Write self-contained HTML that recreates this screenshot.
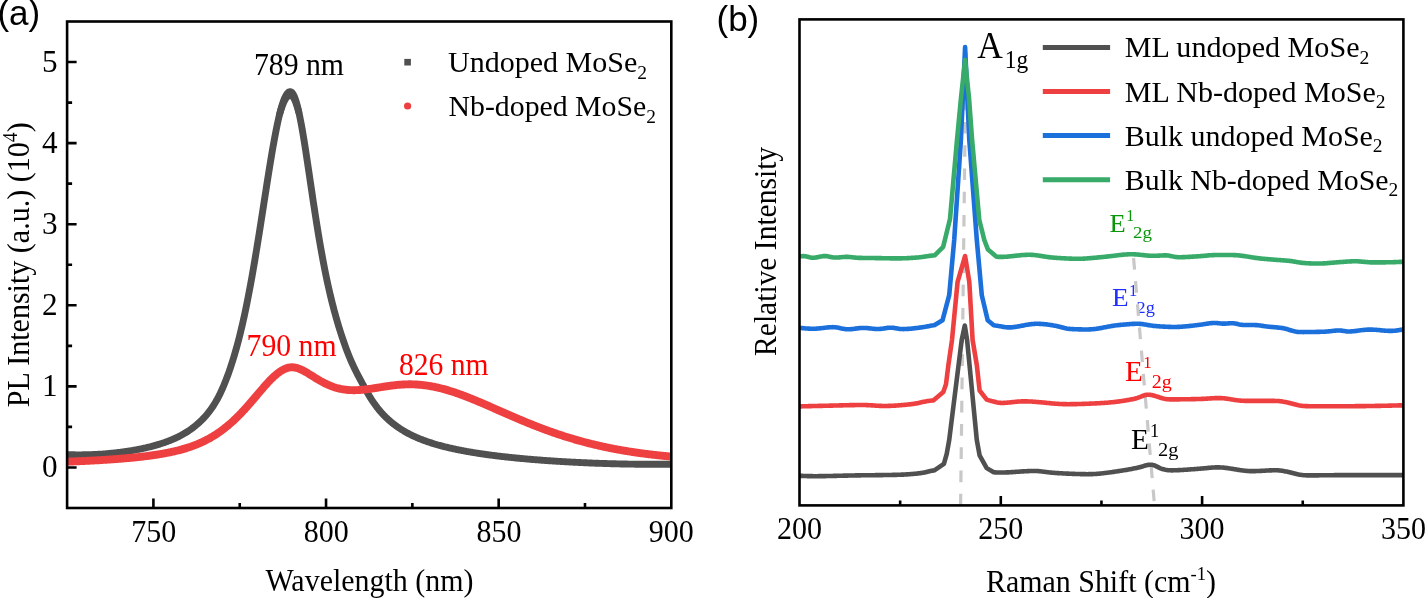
<!DOCTYPE html><html><head><meta charset="utf-8"><style>html,body{margin:0;padding:0;background:#fff;width:1425px;height:598px;overflow:hidden;position:relative}</style></head><body><svg width="1425" height="598" viewBox="0 0 1425 598" style="position:absolute;left:0;top:0;will-change:transform">
<rect width="1425" height="598" fill="#fff"/>
<defs><clipPath id="ca"><rect x="67.1" y="21.5" width="604.1999999999999" height="486.5"/></clipPath><clipPath id="cb"><rect x="799.5" y="19.4" width="603.9000000000001" height="486.0"/></clipPath></defs>
<g clip-path="url(#ca)" fill="none" stroke-linejoin="round" stroke-linecap="round">
<path d="M67.10,454.63 L67.96,454.66 L68.83,454.69 L69.69,454.71 L70.56,454.74 L71.42,454.76 L72.29,454.77 L73.15,454.79 L74.02,454.80 L74.88,454.82 L75.74,454.83 L76.61,454.83 L77.47,454.84 L78.34,454.84 L79.20,454.84 L80.07,454.84 L80.93,454.83 L81.79,454.83 L82.66,454.82 L83.52,454.81 L84.39,454.80 L85.25,454.78 L86.12,454.76 L86.98,454.74 L87.85,454.72 L88.71,454.70 L89.57,454.67 L90.44,454.64 L91.30,454.61 L92.17,454.58 L93.03,454.55 L93.90,454.51 L94.76,454.47 L95.62,454.43 L96.49,454.38 L97.35,454.34 L98.22,454.29 L99.08,454.24 L99.95,454.19 L100.81,454.13 L101.68,454.07 L102.54,454.02 L103.40,453.95 L104.27,453.89 L105.13,453.82 L106.00,453.75 L106.86,453.68 L107.73,453.61 L108.59,453.53 L109.45,453.46 L110.32,453.38 L111.18,453.29 L112.05,453.21 L112.91,453.12 L113.78,453.03 L114.64,452.94 L115.51,452.85 L116.37,452.75 L117.23,452.65 L118.10,452.55 L118.96,452.44 L119.83,452.34 L120.69,452.23 L121.56,452.11 L122.42,452.00 L123.28,451.88 L124.15,451.76 L125.01,451.64 L125.88,451.52 L126.74,451.39 L127.61,451.26 L128.47,451.13 L129.34,450.99 L130.20,450.85 L131.06,450.71 L131.93,450.56 L132.79,450.42 L133.66,450.27 L134.52,450.11 L135.39,449.96 L136.25,449.80 L137.11,449.64 L137.98,449.47 L138.84,449.30 L139.71,449.13 L140.57,448.95 L141.44,448.77 L142.30,448.59 L143.17,448.41 L144.03,448.22 L144.89,448.02 L145.76,447.83 L146.62,447.63 L147.49,447.42 L148.35,447.21 L149.22,447.00 L150.08,446.79 L150.94,446.57 L151.81,446.34 L152.67,446.11 L153.54,445.88 L154.40,445.64 L155.27,445.40 L156.13,445.15 L157.00,444.90 L157.86,444.64 L158.72,444.38 L159.59,444.12 L160.45,443.84 L161.32,443.57 L162.18,443.28 L163.05,442.99 L163.91,442.70 L164.77,442.40 L165.64,442.09 L166.50,441.78 L167.37,441.45 L168.23,441.13 L169.10,440.79 L169.96,440.45 L170.83,440.10 L171.69,439.75 L172.55,439.38 L173.42,439.01 L174.28,438.63 L175.15,438.24 L176.01,437.84 L176.88,437.43 L177.74,437.02 L178.60,436.59 L179.47,436.15 L180.33,435.71 L181.20,435.25 L182.06,434.78 L182.93,434.30 L183.79,433.81 L184.66,433.30 L185.52,432.79 L186.38,432.26 L187.25,431.71 L188.11,431.15 L188.98,430.58 L189.84,430.00 L190.71,429.39 L191.57,428.78 L192.43,428.14 L193.30,427.49 L194.16,426.82 L195.03,426.13 L195.89,425.43 L196.76,424.70 L197.62,423.96 L198.49,423.19 L199.35,422.40 L200.21,421.59 L201.08,420.75 L201.94,419.90 L202.81,419.01 L203.67,418.10 L204.54,417.16 L205.40,416.19 L206.26,415.20 L207.13,414.17 L207.99,413.10 L208.86,412.01 L209.72,410.88 L210.59,409.71 L211.45,408.50 L212.32,407.26 L213.18,405.97 L214.04,404.64 L214.91,403.25 L215.77,401.81 L216.64,400.31 L217.50,398.74 L218.37,397.11 L219.23,395.42 L220.09,393.67 L220.96,391.85 L221.82,389.97 L222.69,388.02 L223.55,386.01 L224.42,383.93 L225.28,381.78 L226.15,379.58 L227.01,377.30 L227.87,374.96 L228.74,372.56 L229.60,370.08 L230.47,367.54 L231.33,364.93 L232.20,362.25 L233.06,359.50 L233.92,356.68 L234.79,353.78 L235.65,350.80 L236.52,347.74 L237.38,344.58 L238.25,341.34 L239.11,338.00 L239.98,334.56 L240.84,331.03 L241.70,327.39 L242.57,323.66 L243.43,319.83 L244.30,315.89 L245.16,311.86 L246.03,307.72 L246.89,303.48 L247.75,299.15 L248.62,294.71 L249.48,290.18 L250.35,285.55 L251.21,280.83 L252.08,276.02 L252.94,271.12 L253.81,266.13 L254.67,261.06 L255.53,255.92 L256.40,250.70 L257.26,245.42 L258.13,240.07 L258.99,234.67 L259.86,229.22 L260.72,223.73 L261.58,218.21 L262.45,212.66 L263.31,207.10 L264.18,201.53 L265.04,195.96 L265.91,190.41 L266.77,184.89 L267.64,179.40 L268.50,173.96 L269.36,168.59 L270.23,163.29 L271.09,158.07 L271.96,152.95 L272.82,147.95 L273.69,143.08 L274.55,138.35 L275.42,133.77 L276.28,129.37 L277.14,125.14 L278.01,121.12 L278.87,117.30 L279.74,113.70 L280.60,110.34 L281.47,107.22 L282.33,104.37 L283.19,101.78 L284.06,99.46 L284.92,97.44 L285.79,95.70 L286.65,94.27 L287.52,93.14 L288.38,92.33 L289.25,91.82 L290.11,91.63 L290.97,91.81 L291.84,92.41 L292.70,93.44 L293.57,94.89 L294.43,96.76 L295.30,99.02 L296.16,101.67 L297.02,104.69 L297.89,108.07 L298.75,111.77 L299.62,115.78 L300.48,120.08 L301.35,124.65 L302.21,129.46 L303.08,134.48 L303.94,139.68 L304.80,145.06 L305.67,150.57 L306.53,156.20 L307.40,161.91 L308.26,167.70 L309.13,173.52 L309.99,179.38 L310.85,185.23 L311.72,191.08 L312.58,196.89 L313.45,202.66 L314.31,208.36 L315.18,214.00 L316.04,219.55 L316.91,225.01 L317.77,230.36 L318.63,235.62 L319.50,240.76 L320.36,245.78 L321.23,250.68 L322.09,255.47 L322.96,260.13 L323.82,264.68 L324.68,269.10 L325.55,273.40 L326.41,277.59 L327.28,281.66 L328.14,285.62 L329.01,289.47 L329.87,293.22 L330.74,296.87 L331.60,300.41 L332.46,303.87 L333.33,307.23 L334.19,310.51 L335.06,313.70 L335.92,316.81 L336.79,319.84 L337.65,322.81 L338.51,325.70 L339.38,328.52 L340.24,331.28 L341.11,333.97 L341.97,336.61 L342.84,339.19 L343.70,341.71 L344.57,344.17 L345.43,346.58 L346.29,348.95 L347.16,351.25 L348.02,353.48 L348.89,355.66 L349.75,357.77 L350.62,359.82 L351.48,361.81 L352.34,363.74 L353.21,365.62 L354.07,367.45 L354.94,369.23 L355.80,370.98 L356.67,372.69 L357.53,374.37 L358.40,376.03 L359.26,377.68 L360.12,379.31 L360.99,380.93 L361.85,382.54 L362.72,384.14 L363.58,385.73 L364.45,387.31 L365.31,388.88 L366.17,390.44 L367.04,391.98 L367.90,393.49 L368.77,394.98 L369.63,396.43 L370.50,397.85 L371.36,399.22 L372.23,400.56 L373.09,401.86 L373.95,403.12 L374.82,404.35 L375.68,405.54 L376.55,406.69 L377.41,407.82 L378.28,408.91 L379.14,409.97 L380.00,411.00 L380.87,412.00 L381.73,412.98 L382.60,413.93 L383.46,414.85 L384.33,415.74 L385.19,416.61 L386.06,417.46 L386.92,418.28 L387.78,419.09 L388.65,419.87 L389.51,420.63 L390.38,421.37 L391.24,422.10 L392.11,422.81 L392.97,423.50 L393.83,424.18 L394.70,424.84 L395.56,425.48 L396.43,426.11 L397.29,426.73 L398.16,427.33 L399.02,427.92 L399.89,428.50 L400.75,429.06 L401.61,429.61 L402.48,430.15 L403.34,430.67 L404.21,431.19 L405.07,431.69 L405.94,432.19 L406.80,432.67 L407.66,433.14 L408.53,433.60 L409.39,434.06 L410.26,434.50 L411.12,434.93 L411.99,435.36 L412.85,435.77 L413.72,436.18 L414.58,436.58 L415.44,436.97 L416.31,437.36 L417.17,437.73 L418.04,438.10 L418.90,438.46 L419.77,438.82 L420.63,439.17 L421.49,439.51 L422.36,439.84 L423.22,440.17 L424.09,440.49 L424.95,440.81 L425.82,441.12 L426.68,441.43 L427.55,441.73 L428.41,442.02 L429.27,442.31 L430.14,442.60 L431.00,442.88 L431.87,443.15 L432.73,443.43 L433.60,443.69 L434.46,443.95 L435.32,444.21 L436.19,444.47 L437.05,444.72 L437.92,444.96 L438.78,445.20 L439.65,445.44 L440.51,445.68 L441.38,445.91 L442.24,446.13 L443.10,446.36 L443.97,446.58 L444.83,446.80 L445.70,447.01 L446.56,447.22 L447.43,447.43 L448.29,447.63 L449.15,447.84 L450.02,448.04 L450.88,448.23 L451.75,448.43 L452.61,448.62 L453.48,448.81 L454.34,448.99 L455.21,449.18 L456.07,449.36 L456.93,449.54 L457.80,449.71 L458.66,449.89 L459.53,450.06 L460.39,450.23 L461.26,450.40 L462.12,450.56 L462.98,450.73 L463.85,450.89 L464.71,451.05 L465.58,451.21 L466.44,451.36 L467.31,451.52 L468.17,451.67 L469.04,451.82 L469.90,451.97 L470.76,452.12 L471.63,452.26 L472.49,452.40 L473.36,452.55 L474.22,452.69 L475.09,452.83 L475.95,452.96 L476.82,453.10 L477.68,453.23 L478.54,453.36 L479.41,453.50 L480.27,453.63 L481.14,453.75 L482.00,453.88 L482.87,454.01 L483.73,454.13 L484.59,454.25 L485.46,454.38 L486.32,454.50 L487.19,454.62 L488.05,454.73 L488.92,454.85 L489.78,454.97 L490.65,455.08 L491.51,455.19 L492.37,455.30 L493.24,455.42 L494.10,455.52 L494.97,455.63 L495.83,455.74 L496.70,455.85 L497.56,455.95 L498.42,456.06 L499.29,456.16 L500.15,456.26 L501.02,456.36 L501.88,456.46 L502.75,456.56 L503.61,456.66 L504.48,456.76 L505.34,456.86 L506.20,456.95 L507.07,457.05 L507.93,457.14 L508.80,457.23 L509.66,457.32 L510.53,457.42 L511.39,457.51 L512.25,457.60 L513.12,457.68 L513.98,457.77 L514.85,457.86 L515.71,457.94 L516.58,458.03 L517.44,458.11 L518.31,458.20 L519.17,458.28 L520.03,458.36 L520.90,458.44 L521.76,458.52 L522.63,458.60 L523.49,458.68 L524.36,458.76 L525.22,458.84 L526.08,458.92 L526.95,458.99 L527.81,459.07 L528.68,459.14 L529.54,459.22 L530.41,459.29 L531.27,459.36 L532.14,459.44 L533.00,459.51 L533.86,459.58 L534.73,459.65 L535.59,459.72 L536.46,459.79 L537.32,459.86 L538.19,459.92 L539.05,459.99 L539.91,460.06 L540.78,460.12 L541.64,460.19 L542.51,460.25 L543.37,460.32 L544.24,460.38 L545.10,460.44 L545.97,460.51 L546.83,460.57 L547.69,460.63 L548.56,460.69 L549.42,460.75 L550.29,460.81 L551.15,460.87 L552.02,460.93 L552.88,460.98 L553.74,461.04 L554.61,461.10 L555.47,461.15 L556.34,461.21 L557.20,461.26 L558.07,461.32 L558.93,461.37 L559.80,461.42 L560.66,461.48 L561.52,461.53 L562.39,461.58 L563.25,461.63 L564.12,461.68 L564.98,461.73 L565.85,461.78 L566.71,461.83 L567.57,461.88 L568.44,461.93 L569.30,461.98 L570.17,462.02 L571.03,462.07 L571.90,462.12 L572.76,462.16 L573.63,462.21 L574.49,462.25 L575.35,462.30 L576.22,462.34 L577.08,462.38 L577.95,462.42 L578.81,462.47 L579.68,462.51 L580.54,462.55 L581.40,462.59 L582.27,462.63 L583.13,462.67 L584.00,462.71 L584.86,462.75 L585.73,462.79 L586.59,462.82 L587.46,462.86 L588.32,462.90 L589.18,462.93 L590.05,462.97 L590.91,463.01 L591.78,463.04 L592.64,463.08 L593.51,463.11 L594.37,463.14 L595.23,463.18 L596.10,463.21 L596.96,463.24 L597.83,463.27 L598.69,463.30 L599.56,463.33 L600.42,463.36 L601.29,463.39 L602.15,463.42 L603.01,463.45 L603.88,463.48 L604.74,463.51 L605.61,463.53 L606.47,463.56 L607.34,463.59 L608.20,463.61 L609.06,463.64 L609.93,463.66 L610.79,463.69 L611.66,463.71 L612.52,463.74 L613.39,463.76 L614.25,463.78 L615.12,463.80 L615.98,463.82 L616.84,463.85 L617.71,463.87 L618.57,463.89 L619.44,463.91 L620.30,463.93 L621.17,463.94 L622.03,463.96 L622.89,463.98 L623.76,464.00 L624.62,464.02 L625.49,464.03 L626.35,464.05 L627.22,464.06 L628.08,464.08 L628.95,464.09 L629.81,464.11 L630.67,464.12 L631.54,464.13 L632.40,464.15 L633.27,464.16 L634.13,464.17 L635.00,464.18 L635.86,464.19 L636.72,464.20 L637.59,464.21 L638.45,464.22 L639.32,464.23 L640.18,464.24 L641.05,464.24 L641.91,464.25 L642.78,464.26 L643.64,464.26 L644.50,464.27 L645.37,464.27 L646.23,464.28 L647.10,464.28 L647.96,464.29 L648.83,464.29 L649.69,464.29 L650.55,464.30 L651.42,464.30 L652.28,464.30 L653.15,464.30 L654.01,464.30 L654.88,464.30 L655.74,464.30 L656.61,464.30 L657.47,464.29 L658.33,464.29 L659.20,464.29 L660.06,464.29 L660.93,464.28 L661.79,464.28 L662.66,464.27 L663.52,464.27 L664.38,464.26 L665.25,464.25 L666.11,464.25 L666.98,464.24 L667.84,464.23 L668.71,464.22 L669.57,464.21 L670.44,464.20 L671.30,464.19" stroke="#505050" stroke-width="6.9"/>
<path d="M279.74,113.75 L280.60,110.91 L281.47,108.27 L282.33,105.86 L283.19,103.67 L284.06,101.71 L284.92,100.00 L285.79,98.53 L286.65,97.32 L287.52,96.37 L288.38,95.67 L289.25,95.25 L290.11,95.09 L290.97,95.24 L291.84,95.75 L292.70,96.62 L293.57,97.85 L294.43,99.42 L295.30,101.34 L296.16,103.58 L297.02,106.13 L297.89,108.98 L298.75,112.11" stroke="#505050" stroke-width="6.9"/>
<path d="M67.10,461.70 L67.96,461.66 L68.83,461.63 L69.69,461.60 L70.56,461.56 L71.42,461.53 L72.29,461.49 L73.15,461.46 L74.02,461.42 L74.88,461.39 L75.74,461.35 L76.61,461.31 L77.47,461.28 L78.34,461.24 L79.20,461.20 L80.07,461.16 L80.93,461.12 L81.79,461.08 L82.66,461.04 L83.52,461.00 L84.39,460.96 L85.25,460.92 L86.12,460.88 L86.98,460.84 L87.85,460.79 L88.71,460.75 L89.57,460.71 L90.44,460.66 L91.30,460.62 L92.17,460.57 L93.03,460.53 L93.90,460.48 L94.76,460.43 L95.62,460.39 L96.49,460.34 L97.35,460.29 L98.22,460.24 L99.08,460.19 L99.95,460.14 L100.81,460.09 L101.68,460.03 L102.54,459.98 L103.40,459.93 L104.27,459.87 L105.13,459.82 L106.00,459.76 L106.86,459.71 L107.73,459.65 L108.59,459.59 L109.45,459.54 L110.32,459.48 L111.18,459.42 L112.05,459.36 L112.91,459.29 L113.78,459.23 L114.64,459.17 L115.51,459.11 L116.37,459.04 L117.23,458.97 L118.10,458.91 L118.96,458.84 L119.83,458.77 L120.69,458.70 L121.56,458.63 L122.42,458.56 L123.28,458.49 L124.15,458.42 L125.01,458.34 L125.88,458.27 L126.74,458.19 L127.61,458.11 L128.47,458.03 L129.34,457.96 L130.20,457.87 L131.06,457.79 L131.93,457.71 L132.79,457.62 L133.66,457.54 L134.52,457.45 L135.39,457.36 L136.25,457.27 L137.11,457.18 L137.98,457.09 L138.84,457.00 L139.71,456.90 L140.57,456.80 L141.44,456.71 L142.30,456.61 L143.17,456.50 L144.03,456.40 L144.89,456.30 L145.76,456.19 L146.62,456.08 L147.49,455.97 L148.35,455.86 L149.22,455.74 L150.08,455.63 L150.94,455.51 L151.81,455.39 L152.67,455.27 L153.54,455.14 L154.40,455.02 L155.27,454.89 L156.13,454.76 L157.00,454.62 L157.86,454.49 L158.72,454.35 L159.59,454.21 L160.45,454.07 L161.32,453.92 L162.18,453.77 L163.05,453.62 L163.91,453.46 L164.77,453.31 L165.64,453.14 L166.50,452.98 L167.37,452.81 L168.23,452.64 L169.10,452.47 L169.96,452.29 L170.83,452.11 L171.69,451.92 L172.55,451.73 L173.42,451.54 L174.28,451.34 L175.15,451.14 L176.01,450.94 L176.88,450.73 L177.74,450.51 L178.60,450.30 L179.47,450.07 L180.33,449.84 L181.20,449.61 L182.06,449.37 L182.93,449.13 L183.79,448.88 L184.66,448.62 L185.52,448.36 L186.38,448.10 L187.25,447.83 L188.11,447.55 L188.98,447.26 L189.84,446.97 L190.71,446.68 L191.57,446.37 L192.43,446.06 L193.30,445.75 L194.16,445.42 L195.03,445.09 L195.89,444.75 L196.76,444.41 L197.62,444.05 L198.49,443.69 L199.35,443.32 L200.21,442.94 L201.08,442.55 L201.94,442.16 L202.81,441.75 L203.67,441.34 L204.54,440.92 L205.40,440.49 L206.26,440.05 L207.13,439.60 L207.99,439.14 L208.86,438.67 L209.72,438.19 L210.59,437.70 L211.45,437.20 L212.32,436.69 L213.18,436.17 L214.04,435.64 L214.91,435.10 L215.77,434.55 L216.64,433.98 L217.50,433.41 L218.37,432.82 L219.23,432.22 L220.09,431.61 L220.96,430.99 L221.82,430.36 L222.69,429.71 L223.55,429.06 L224.42,428.39 L225.28,427.71 L226.15,427.02 L227.01,426.31 L227.87,425.60 L228.74,424.87 L229.60,424.13 L230.47,423.37 L231.33,422.61 L232.20,421.83 L233.06,421.04 L233.92,420.24 L234.79,419.42 L235.65,418.60 L236.52,417.76 L237.38,416.91 L238.25,416.05 L239.11,415.18 L239.98,414.29 L240.84,413.40 L241.70,412.50 L242.57,411.58 L243.43,410.65 L244.30,409.72 L245.16,408.77 L246.03,407.82 L246.89,406.86 L247.75,405.88 L248.62,404.90 L249.48,403.92 L250.35,402.92 L251.21,401.92 L252.08,400.92 L252.94,399.91 L253.81,398.89 L254.67,397.88 L255.53,396.86 L256.40,395.83 L257.26,394.81 L258.13,393.79 L258.99,392.76 L259.86,391.74 L260.72,390.73 L261.58,389.72 L262.45,388.71 L263.31,387.71 L264.18,386.72 L265.04,385.73 L265.91,384.76 L266.77,383.80 L267.64,382.85 L268.50,381.92 L269.36,381.01 L270.23,380.11 L271.09,379.23 L271.96,378.37 L272.82,377.54 L273.69,376.73 L274.55,375.94 L275.42,375.18 L276.28,374.45 L277.14,373.74 L278.01,373.07 L278.87,372.43 L279.74,371.82 L280.60,371.24 L281.47,370.70 L282.33,370.19 L283.19,369.72 L284.06,369.28 L284.92,368.88 L285.79,368.52 L286.65,368.20 L287.52,367.92 L288.38,367.69 L289.25,367.52 L290.11,367.39 L290.97,367.32 L291.84,367.29 L292.70,367.31 L293.57,367.37 L294.43,367.48 L295.30,367.63 L296.16,367.82 L297.02,368.05 L297.89,368.32 L298.75,368.62 L299.62,368.95 L300.48,369.31 L301.35,369.69 L302.21,370.11 L303.08,370.54 L303.94,370.99 L304.80,371.46 L305.67,371.95 L306.53,372.45 L307.40,372.96 L308.26,373.49 L309.13,374.02 L309.99,374.55 L310.85,375.09 L311.72,375.63 L312.58,376.17 L313.45,376.71 L314.31,377.25 L315.18,377.79 L316.04,378.32 L316.91,378.85 L317.77,379.37 L318.63,379.88 L319.50,380.39 L320.36,380.89 L321.23,381.37 L322.09,381.85 L322.96,382.31 L323.82,382.77 L324.68,383.21 L325.55,383.64 L326.41,384.05 L327.28,384.45 L328.14,384.84 L329.01,385.22 L329.87,385.58 L330.74,385.93 L331.60,386.26 L332.46,386.58 L333.33,386.89 L334.19,387.18 L335.06,387.45 L335.92,387.72 L336.79,387.97 L337.65,388.20 L338.51,388.42 L339.38,388.63 L340.24,388.82 L341.11,389.00 L341.97,389.16 L342.84,389.31 L343.70,389.45 L344.57,389.58 L345.43,389.69 L346.29,389.79 L347.16,389.88 L348.02,389.96 L348.89,390.02 L349.75,390.08 L350.62,390.12 L351.48,390.15 L352.34,390.17 L353.21,390.18 L354.07,390.19 L354.94,390.18 L355.80,390.16 L356.67,390.13 L357.53,390.10 L358.40,390.06 L359.26,390.01 L360.12,389.95 L360.99,389.88 L361.85,389.81 L362.72,389.73 L363.58,389.65 L364.45,389.56 L365.31,389.46 L366.17,389.36 L367.04,389.25 L367.90,389.14 L368.77,389.03 L369.63,388.91 L370.50,388.79 L371.36,388.66 L372.23,388.54 L373.09,388.41 L373.95,388.27 L374.82,388.14 L375.68,388.00 L376.55,387.87 L377.41,387.73 L378.28,387.59 L379.14,387.45 L380.00,387.31 L380.87,387.18 L381.73,387.04 L382.60,386.90 L383.46,386.77 L384.33,386.63 L385.19,386.50 L386.06,386.37 L386.92,386.24 L387.78,386.11 L388.65,385.99 L389.51,385.87 L390.38,385.75 L391.24,385.64 L392.11,385.52 L392.97,385.42 L393.83,385.31 L394.70,385.21 L395.56,385.12 L396.43,385.03 L397.29,384.94 L398.16,384.86 L399.02,384.79 L399.89,384.71 L400.75,384.65 L401.61,384.59 L402.48,384.53 L403.34,384.48 L404.21,384.44 L405.07,384.40 L405.94,384.37 L406.80,384.35 L407.66,384.33 L408.53,384.32 L409.39,384.31 L410.26,384.31 L411.12,384.32 L411.99,384.33 L412.85,384.36 L413.72,384.38 L414.58,384.42 L415.44,384.46 L416.31,384.51 L417.17,384.56 L418.04,384.62 L418.90,384.69 L419.77,384.76 L420.63,384.84 L421.49,384.92 L422.36,385.01 L423.22,385.11 L424.09,385.21 L424.95,385.32 L425.82,385.44 L426.68,385.56 L427.55,385.68 L428.41,385.82 L429.27,385.95 L430.14,386.10 L431.00,386.25 L431.87,386.40 L432.73,386.57 L433.60,386.73 L434.46,386.91 L435.32,387.08 L436.19,387.27 L437.05,387.46 L437.92,387.65 L438.78,387.85 L439.65,388.06 L440.51,388.27 L441.38,388.49 L442.24,388.71 L443.10,388.94 L443.97,389.17 L444.83,389.41 L445.70,389.65 L446.56,389.90 L447.43,390.15 L448.29,390.40 L449.15,390.67 L450.02,390.93 L450.88,391.20 L451.75,391.47 L452.61,391.75 L453.48,392.04 L454.34,392.32 L455.21,392.61 L456.07,392.91 L456.93,393.21 L457.80,393.51 L458.66,393.81 L459.53,394.12 L460.39,394.43 L461.26,394.75 L462.12,395.07 L462.98,395.39 L463.85,395.72 L464.71,396.05 L465.58,396.38 L466.44,396.71 L467.31,397.05 L468.17,397.39 L469.04,397.73 L469.90,398.07 L470.76,398.42 L471.63,398.77 L472.49,399.12 L473.36,399.47 L474.22,399.83 L475.09,400.19 L475.95,400.55 L476.82,400.91 L477.68,401.27 L478.54,401.63 L479.41,402.00 L480.27,402.37 L481.14,402.74 L482.00,403.11 L482.87,403.48 L483.73,403.85 L484.59,404.22 L485.46,404.60 L486.32,404.97 L487.19,405.35 L488.05,405.73 L488.92,406.10 L489.78,406.48 L490.65,406.86 L491.51,407.24 L492.37,407.62 L493.24,408.00 L494.10,408.38 L494.97,408.76 L495.83,409.14 L496.70,409.52 L497.56,409.90 L498.42,410.28 L499.29,410.66 L500.15,411.05 L501.02,411.43 L501.88,411.81 L502.75,412.19 L503.61,412.57 L504.48,412.94 L505.34,413.32 L506.20,413.70 L507.07,414.08 L507.93,414.46 L508.80,414.83 L509.66,415.21 L510.53,415.59 L511.39,415.96 L512.25,416.33 L513.12,416.71 L513.98,417.08 L514.85,417.45 L515.71,417.82 L516.58,418.19 L517.44,418.56 L518.31,418.92 L519.17,419.29 L520.03,419.66 L520.90,420.02 L521.76,420.38 L522.63,420.74 L523.49,421.10 L524.36,421.46 L525.22,421.82 L526.08,422.17 L526.95,422.53 L527.81,422.88 L528.68,423.23 L529.54,423.58 L530.41,423.93 L531.27,424.28 L532.14,424.62 L533.00,424.97 L533.86,425.31 L534.73,425.65 L535.59,425.99 L536.46,426.33 L537.32,426.67 L538.19,427.00 L539.05,427.33 L539.91,427.66 L540.78,427.99 L541.64,428.32 L542.51,428.64 L543.37,428.97 L544.24,429.29 L545.10,429.61 L545.97,429.93 L546.83,430.25 L547.69,430.56 L548.56,430.87 L549.42,431.18 L550.29,431.49 L551.15,431.80 L552.02,432.10 L552.88,432.41 L553.74,432.71 L554.61,433.01 L555.47,433.31 L556.34,433.60 L557.20,433.89 L558.07,434.19 L558.93,434.47 L559.80,434.76 L560.66,435.05 L561.52,435.33 L562.39,435.61 L563.25,435.89 L564.12,436.17 L564.98,436.45 L565.85,436.72 L566.71,436.99 L567.57,437.26 L568.44,437.53 L569.30,437.79 L570.17,438.06 L571.03,438.32 L571.90,438.58 L572.76,438.83 L573.63,439.09 L574.49,439.34 L575.35,439.59 L576.22,439.84 L577.08,440.09 L577.95,440.33 L578.81,440.58 L579.68,440.82 L580.54,441.06 L581.40,441.29 L582.27,441.53 L583.13,441.76 L584.00,441.99 L584.86,442.22 L585.73,442.45 L586.59,442.68 L587.46,442.90 L588.32,443.12 L589.18,443.34 L590.05,443.56 L590.91,443.77 L591.78,443.98 L592.64,444.20 L593.51,444.41 L594.37,444.61 L595.23,444.82 L596.10,445.02 L596.96,445.22 L597.83,445.42 L598.69,445.62 L599.56,445.82 L600.42,446.01 L601.29,446.20 L602.15,446.40 L603.01,446.58 L603.88,446.77 L604.74,446.96 L605.61,447.14 L606.47,447.32 L607.34,447.50 L608.20,447.68 L609.06,447.85 L609.93,448.03 L610.79,448.20 L611.66,448.37 L612.52,448.54 L613.39,448.71 L614.25,448.87 L615.12,449.04 L615.98,449.20 L616.84,449.36 L617.71,449.52 L618.57,449.68 L619.44,449.83 L620.30,449.99 L621.17,450.14 L622.03,450.29 L622.89,450.44 L623.76,450.59 L624.62,450.73 L625.49,450.88 L626.35,451.02 L627.22,451.16 L628.08,451.30 L628.95,451.44 L629.81,451.58 L630.67,451.71 L631.54,451.84 L632.40,451.98 L633.27,452.11 L634.13,452.24 L635.00,452.37 L635.86,452.49 L636.72,452.62 L637.59,452.74 L638.45,452.86 L639.32,452.98 L640.18,453.10 L641.05,453.22 L641.91,453.34 L642.78,453.46 L643.64,453.57 L644.50,453.68 L645.37,453.80 L646.23,453.91 L647.10,454.02 L647.96,454.12 L648.83,454.23 L649.69,454.34 L650.55,454.44 L651.42,454.54 L652.28,454.65 L653.15,454.75 L654.01,454.85 L654.88,454.95 L655.74,455.04 L656.61,455.14 L657.47,455.23 L658.33,455.33 L659.20,455.42 L660.06,455.51 L660.93,455.60 L661.79,455.69 L662.66,455.78 L663.52,455.87 L664.38,455.96 L665.25,456.04 L666.11,456.13 L666.98,456.21 L667.84,456.30 L668.71,456.38 L669.57,456.46 L670.44,456.54 L671.30,456.62" stroke="#ee4040" stroke-width="7.9"/>
</g>
<rect x="67.1" y="21.5" width="604.1999999999999" height="486.5" fill="none" stroke="#000" stroke-width="2.6"/>
<path d="M153.41,508.0 V498.5 M326.04,508.0 V498.5 M498.67,508.0 V498.5 M239.73,508.0 V503.0 M412.36,508.0 V503.0 M584.99,508.0 V503.0 M67.1,467.46 H76.6 M67.1,386.38 H76.6 M67.1,305.29 H76.6 M67.1,224.21 H76.6 M67.1,143.12 H76.6 M67.1,62.04 H76.6 M67.1,426.92 H72.1 M67.1,345.83 H72.1 M67.1,264.75 H72.1 M67.1,183.67 H72.1 M67.1,102.58 H72.1" stroke="#000" stroke-width="2.6" fill="none"/>
<rect x="404.3" y="58.9" width="6.6" height="6.6" fill="#505050"/>
<circle cx="407.6" cy="106" r="3.6" fill="#ee4040"/>
<text x="1109.4" y="231.7" font-family='"Liberation Serif", serif' font-size="25.2" fill="#0a960a" text-anchor="start" textLength="16.2" lengthAdjust="spacingAndGlyphs" xml:space="preserve">E</text>
<text x="1126.1423529411763" y="220.8" font-family='"Liberation Serif", serif' font-size="15.9" fill="#0a960a" text-anchor="start" xml:space="preserve">1</text>
<text x="1133.0" y="238.1" font-family='"Liberation Serif", serif' font-size="16.5" fill="#0a960a" text-anchor="start" textLength="18.9" lengthAdjust="spacingAndGlyphs" xml:space="preserve">2g</text>
<text x="1111.9" y="306.1" font-family='"Liberation Serif", serif' font-size="24.3" fill="#1f2fff" text-anchor="start" textLength="16.6" lengthAdjust="spacingAndGlyphs" xml:space="preserve">E</text>
<text x="1128.9647058823527" y="295.7" font-family='"Liberation Serif", serif' font-size="16.5" fill="#1f2fff" text-anchor="start" xml:space="preserve">1</text>
<text x="1136.5" y="313.1" font-family='"Liberation Serif", serif' font-size="17.2" fill="#1f2fff" text-anchor="start" textLength="18.3" lengthAdjust="spacingAndGlyphs" xml:space="preserve">2g</text>
<text x="1125.1000000000001" y="380.5" font-family='"Liberation Serif", serif' font-size="29.3" fill="#ff0000" text-anchor="start" textLength="17.8" lengthAdjust="spacingAndGlyphs" xml:space="preserve">E</text>
<text x="1143.2129411764704" y="368.4" font-family='"Liberation Serif", serif' font-size="16.9" fill="#ff0000" text-anchor="start" xml:space="preserve">1</text>
<text x="1151.6999999999998" y="387.6" font-family='"Liberation Serif", serif' font-size="18.2" fill="#ff0000" text-anchor="start" textLength="20.0" lengthAdjust="spacingAndGlyphs" xml:space="preserve">2g</text>
<text x="1130.9" y="448.9" font-family='"Liberation Serif", serif' font-size="29.4" fill="#000000" text-anchor="start" textLength="17.9" lengthAdjust="spacingAndGlyphs" xml:space="preserve">E</text>
<text x="1150.1188235294117" y="437.2" font-family='"Liberation Serif", serif' font-size="18.4" fill="#000000" text-anchor="start" xml:space="preserve">1</text>
<text x="1158.0" y="456.4" font-family='"Liberation Serif", serif' font-size="18.5" fill="#000000" text-anchor="start" textLength="20.4" lengthAdjust="spacingAndGlyphs" xml:space="preserve">2g</text>
<g clip-path="url(#cb)" fill="none" stroke-linejoin="round" stroke-linecap="butt">
<path d="M960.6,505.4 L966,50" stroke="#c8c8c8" stroke-width="3.2" stroke-dasharray="11.62 11.62"/>
<path d="M1154.5,505.4 L1133.4,256" stroke="#c8c8c8" stroke-width="3.2" stroke-dasharray="11.62 11.62" stroke-dashoffset="19"/>
<path d="M797.50,475.82 L798.50,475.83 L799.50,475.85 L800.50,475.87 L801.50,475.89 L802.50,475.92 L803.50,475.96 L804.50,475.99 L805.50,476.02 L806.50,476.05 L807.50,476.08 L808.50,476.11 L809.50,476.13 L810.50,476.15 L811.50,476.16 L812.50,476.17 L813.50,476.18 L814.50,476.19 L815.50,476.19 L816.50,476.18 L817.50,476.18 L818.50,476.17 L819.50,476.17 L820.50,476.16 L821.50,476.14 L822.50,476.13 L823.50,476.12 L824.50,476.10 L825.50,476.09 L826.50,476.07 L827.50,476.05 L828.50,476.03 L829.50,476.01 L830.50,475.99 L831.50,475.97 L832.50,475.94 L833.50,475.92 L834.50,475.90 L835.50,475.87 L836.50,475.85 L837.50,475.82 L838.50,475.80 L839.50,475.77 L840.50,475.75 L841.50,475.72 L842.50,475.70 L843.50,475.67 L844.50,475.65 L845.50,475.62 L846.50,475.60 L847.50,475.58 L848.50,475.55 L849.50,475.53 L850.50,475.51 L851.50,475.49 L852.50,475.47 L853.50,475.45 L854.50,475.43 L855.50,475.41 L856.50,475.40 L857.50,475.38 L858.50,475.37 L859.50,475.35 L860.50,475.34 L861.50,475.32 L862.50,475.31 L863.50,475.30 L864.50,475.29 L865.50,475.27 L866.50,475.26 L867.50,475.25 L868.50,475.24 L869.50,475.23 L870.50,475.22 L871.50,475.21 L872.50,475.20 L873.50,475.19 L874.50,475.18 L875.50,475.17 L876.50,475.16 L877.50,475.14 L878.50,475.13 L879.50,475.12 L880.50,475.11 L881.50,475.10 L882.50,475.08 L883.50,475.07 L884.50,475.06 L885.50,475.04 L886.50,475.03 L887.50,475.01 L888.50,475.00 L889.50,474.98 L890.50,474.96 L891.50,474.94 L892.50,474.92 L893.50,474.90 L894.50,474.88 L895.50,474.86 L896.50,474.83 L897.50,474.81 L898.50,474.78 L899.50,474.75 L900.50,474.71 L901.50,474.67 L902.50,474.63 L903.50,474.58 L904.50,474.53 L905.50,474.47 L906.50,474.41 L907.50,474.35 L908.50,474.28 L909.50,474.21 L910.50,474.13 L911.50,474.05 L912.50,473.97 L913.50,473.88 L914.50,473.79 L915.50,473.70 L916.50,473.60 L917.50,473.49 L918.50,473.38 L919.50,473.26 L920.50,473.13 L921.50,472.98 L922.50,472.81 L923.50,472.63 L924.50,472.42 L925.50,472.19 L926.50,471.94 L927.50,471.68 L928.50,471.43 L929.50,471.19 L930.50,470.96 L931.50,470.76 L932.50,470.60 L933.50,470.47 L934.70,470.20 L943.90,463.90 L946.70,454.00 L949.20,440.00 L961.70,340.00 L964.80,325.50 L967.10,340.00 L976.80,440.00 L979.60,455.40 L986.70,468.10 L993.70,472.30 L995.50,472.40 L996.50,472.44 L997.50,472.48 L998.50,472.51 L999.50,472.53 L1000.50,472.54 L1001.50,472.55 L1002.50,472.54 L1003.50,472.52 L1004.50,472.50 L1005.50,472.46 L1006.50,472.42 L1007.50,472.38 L1008.50,472.33 L1009.50,472.28 L1010.50,472.22 L1011.50,472.16 L1012.50,472.10 L1013.50,472.04 L1014.50,471.97 L1015.50,471.90 L1016.50,471.83 L1017.50,471.76 L1018.50,471.69 L1019.50,471.62 L1020.50,471.55 L1021.50,471.48 L1022.50,471.42 L1023.50,471.36 L1024.50,471.29 L1025.50,471.24 L1026.50,471.18 L1027.50,471.13 L1028.50,471.09 L1029.50,471.05 L1030.50,471.01 L1031.50,470.99 L1032.50,470.97 L1033.50,470.96 L1034.50,470.96 L1035.50,470.98 L1036.50,471.01 L1037.50,471.06 L1038.50,471.13 L1039.50,471.21 L1040.50,471.31 L1041.50,471.42 L1042.50,471.54 L1043.50,471.67 L1044.50,471.81 L1045.50,471.95 L1046.50,472.08 L1047.50,472.21 L1048.50,472.34 L1049.50,472.46 L1050.50,472.56 L1051.50,472.66 L1052.50,472.75 L1053.50,472.83 L1054.50,472.90 L1055.50,472.97 L1056.50,473.03 L1057.50,473.09 L1058.50,473.15 L1059.50,473.21 L1060.50,473.26 L1061.50,473.32 L1062.50,473.37 L1063.50,473.43 L1064.50,473.48 L1065.50,473.53 L1066.50,473.58 L1067.50,473.63 L1068.50,473.67 L1069.50,473.72 L1070.50,473.76 L1071.50,473.81 L1072.50,473.85 L1073.50,473.88 L1074.50,473.92 L1075.50,473.96 L1076.50,473.99 L1077.50,474.02 L1078.50,474.05 L1079.50,474.07 L1080.50,474.10 L1081.50,474.12 L1082.50,474.13 L1083.50,474.15 L1084.50,474.16 L1085.50,474.17 L1086.50,474.18 L1087.50,474.18 L1088.50,474.17 L1089.50,474.16 L1090.50,474.14 L1091.50,474.12 L1092.50,474.08 L1093.50,474.04 L1094.50,473.99 L1095.50,473.93 L1096.50,473.86 L1097.50,473.79 L1098.50,473.71 L1099.50,473.62 L1100.50,473.53 L1101.50,473.42 L1102.50,473.32 L1103.50,473.21 L1104.50,473.09 L1105.50,472.97 L1106.50,472.84 L1107.50,472.71 L1108.50,472.58 L1109.50,472.44 L1110.50,472.30 L1111.50,472.15 L1112.50,472.01 L1113.50,471.86 L1114.50,471.71 L1115.50,471.56 L1116.50,471.41 L1117.50,471.26 L1118.50,471.11 L1119.50,470.95 L1120.50,470.80 L1121.50,470.65 L1122.50,470.50 L1123.50,470.34 L1124.50,470.19 L1125.50,470.03 L1126.50,469.87 L1127.50,469.70 L1128.50,469.52 L1129.50,469.35 L1130.50,469.16 L1131.50,468.97 L1132.50,468.78 L1133.50,468.58 L1134.50,468.37 L1135.50,468.16 L1136.50,467.95 L1137.50,467.72 L1138.50,467.49 L1139.50,467.24 L1140.50,466.98 L1141.50,466.71 L1142.50,466.42 L1143.50,466.12 L1144.50,465.83 L1145.50,465.54 L1146.50,465.27 L1147.50,465.04 L1148.50,464.85 L1149.50,464.73 L1150.50,464.69 L1151.50,464.74 L1152.50,464.89 L1153.50,465.14 L1154.50,465.49 L1155.50,465.91 L1156.50,466.38 L1157.50,466.88 L1158.50,467.39 L1159.50,467.88 L1160.50,468.32 L1161.50,468.72 L1162.50,469.06 L1163.50,469.35 L1164.50,469.60 L1165.50,469.80 L1166.50,469.96 L1167.50,470.09 L1168.50,470.19 L1169.50,470.26 L1170.50,470.30 L1171.50,470.33 L1172.50,470.33 L1173.50,470.32 L1174.50,470.31 L1175.50,470.28 L1176.50,470.25 L1177.50,470.21 L1178.50,470.16 L1179.50,470.12 L1180.50,470.06 L1181.50,470.01 L1182.50,469.95 L1183.50,469.89 L1184.50,469.82 L1185.50,469.76 L1186.50,469.69 L1187.50,469.62 L1188.50,469.55 L1189.50,469.47 L1190.50,469.40 L1191.50,469.32 L1192.50,469.25 L1193.50,469.17 L1194.50,469.10 L1195.50,469.02 L1196.50,468.95 L1197.50,468.88 L1198.50,468.80 L1199.50,468.72 L1200.50,468.64 L1201.50,468.56 L1202.50,468.48 L1203.50,468.39 L1204.50,468.29 L1205.50,468.19 L1206.50,468.10 L1207.50,468.00 L1208.50,467.90 L1209.50,467.81 L1210.50,467.72 L1211.50,467.64 L1212.50,467.56 L1213.50,467.50 L1214.50,467.45 L1215.50,467.41 L1216.50,467.39 L1217.50,467.38 L1218.50,467.39 L1219.50,467.41 L1220.50,467.45 L1221.50,467.51 L1222.50,467.58 L1223.50,467.66 L1224.50,467.76 L1225.50,467.87 L1226.50,468.00 L1227.50,468.13 L1228.50,468.27 L1229.50,468.42 L1230.50,468.57 L1231.50,468.73 L1232.50,468.89 L1233.50,469.06 L1234.50,469.22 L1235.50,469.39 L1236.50,469.56 L1237.50,469.72 L1238.50,469.88 L1239.50,470.04 L1240.50,470.19 L1241.50,470.33 L1242.50,470.47 L1243.50,470.59 L1244.50,470.71 L1245.50,470.81 L1246.50,470.90 L1247.50,470.98 L1248.50,471.04 L1249.50,471.09 L1250.50,471.12 L1251.50,471.14 L1252.50,471.15 L1253.50,471.14 L1254.50,471.13 L1255.50,471.10 L1256.50,471.07 L1257.50,471.04 L1258.50,470.99 L1259.50,470.95 L1260.50,470.90 L1261.50,470.84 L1262.50,470.79 L1263.50,470.73 L1264.50,470.68 L1265.50,470.62 L1266.50,470.57 L1267.50,470.51 L1268.50,470.46 L1269.50,470.41 L1270.50,470.37 L1271.50,470.33 L1272.50,470.30 L1273.50,470.28 L1274.50,470.27 L1275.50,470.27 L1276.50,470.29 L1277.50,470.32 L1278.50,470.38 L1279.50,470.46 L1280.50,470.56 L1281.50,470.69 L1282.50,470.84 L1283.50,471.01 L1284.50,471.19 L1285.50,471.40 L1286.50,471.62 L1287.50,471.85 L1288.50,472.09 L1289.50,472.33 L1290.50,472.58 L1291.50,472.84 L1292.50,473.09 L1293.50,473.34 L1294.50,473.59 L1295.50,473.82 L1296.50,474.05 L1297.50,474.26 L1298.50,474.46 L1299.50,474.65 L1300.50,474.81 L1301.50,474.95 L1302.50,475.07 L1303.50,475.17 L1304.50,475.25 L1305.50,475.30 L1306.50,475.34 L1307.50,475.36 L1308.50,475.38 L1309.50,475.38 L1310.50,475.38 L1311.50,475.38 L1312.50,475.38 L1313.50,475.37 L1314.50,475.36 L1315.50,475.36 L1316.50,475.35 L1317.50,475.34 L1318.50,475.33 L1319.50,475.32 L1320.50,475.31 L1321.50,475.30 L1322.50,475.29 L1323.50,475.28 L1324.50,475.27 L1325.50,475.26 L1326.50,475.25 L1327.50,475.24 L1328.50,475.23 L1329.50,475.22 L1330.50,475.21 L1331.50,475.20 L1332.50,475.19 L1333.50,475.18 L1334.50,475.17 L1335.50,475.16 L1336.50,475.15 L1337.50,475.15 L1338.50,475.14 L1339.50,475.13 L1340.50,475.13 L1341.50,475.12 L1342.50,475.12 L1343.50,475.11 L1344.50,475.11 L1345.50,475.11 L1346.50,475.10 L1347.50,475.10 L1348.50,475.10 L1349.50,475.10 L1350.50,475.10 L1351.50,475.10 L1352.50,475.10 L1353.50,475.10 L1354.50,475.10 L1355.50,475.10 L1356.50,475.10 L1357.50,475.10 L1358.50,475.10 L1359.50,475.10 L1360.50,475.10 L1361.50,475.10 L1362.50,475.10 L1363.50,475.10 L1364.50,475.10 L1365.50,475.10 L1366.50,475.10 L1367.50,475.10 L1368.50,475.10 L1369.50,475.10 L1370.50,475.10 L1371.50,475.10 L1372.50,475.10 L1373.50,475.10 L1374.50,475.10 L1375.50,475.10 L1376.50,475.10 L1377.50,475.10 L1378.50,475.10 L1379.50,475.10 L1380.50,475.10 L1381.50,475.10 L1382.50,475.10 L1383.50,475.10 L1384.50,475.10 L1385.50,475.10 L1386.50,475.10 L1387.50,475.10 L1388.50,475.10 L1389.50,475.10 L1390.50,475.10 L1391.50,475.10 L1392.50,475.10 L1393.50,475.10 L1394.50,475.10 L1395.50,475.10 L1396.50,475.10 L1397.50,475.10 L1398.50,475.10 L1399.50,475.10 L1400.50,475.10 L1401.50,475.10 L1402.50,475.10 L1403.50,475.10 L1404.50,475.10" stroke="#505050" stroke-width="4.6"/>
<path d="M797.50,406.39 L798.50,406.38 L799.50,406.37 L800.50,406.35 L801.50,406.34 L802.50,406.31 L803.50,406.29 L804.50,406.27 L805.50,406.24 L806.50,406.22 L807.50,406.19 L808.50,406.17 L809.50,406.14 L810.50,406.12 L811.50,406.09 L812.50,406.07 L813.50,406.04 L814.50,406.02 L815.50,405.99 L816.50,405.97 L817.50,405.94 L818.50,405.92 L819.50,405.90 L820.50,405.87 L821.50,405.85 L822.50,405.83 L823.50,405.80 L824.50,405.78 L825.50,405.76 L826.50,405.73 L827.50,405.71 L828.50,405.69 L829.50,405.66 L830.50,405.64 L831.50,405.62 L832.50,405.59 L833.50,405.57 L834.50,405.54 L835.50,405.51 L836.50,405.49 L837.50,405.46 L838.50,405.44 L839.50,405.41 L840.50,405.38 L841.50,405.36 L842.50,405.33 L843.50,405.31 L844.50,405.28 L845.50,405.26 L846.50,405.23 L847.50,405.21 L848.50,405.19 L849.50,405.17 L850.50,405.15 L851.50,405.13 L852.50,405.11 L853.50,405.09 L854.50,405.08 L855.50,405.06 L856.50,405.05 L857.50,405.04 L858.50,405.03 L859.50,405.02 L860.50,405.02 L861.50,405.02 L862.50,405.02 L863.50,405.03 L864.50,405.05 L865.50,405.07 L866.50,405.10 L867.50,405.14 L868.50,405.19 L869.50,405.24 L870.50,405.30 L871.50,405.36 L872.50,405.42 L873.50,405.49 L874.50,405.55 L875.50,405.62 L876.50,405.68 L877.50,405.74 L878.50,405.79 L879.50,405.84 L880.50,405.88 L881.50,405.91 L882.50,405.94 L883.50,405.95 L884.50,405.96 L885.50,405.96 L886.50,405.95 L887.50,405.93 L888.50,405.91 L889.50,405.88 L890.50,405.84 L891.50,405.80 L892.50,405.75 L893.50,405.70 L894.50,405.64 L895.50,405.58 L896.50,405.51 L897.50,405.44 L898.50,405.37 L899.50,405.29 L900.50,405.21 L901.50,405.12 L902.50,405.04 L903.50,404.95 L904.50,404.86 L905.50,404.76 L906.50,404.67 L907.50,404.57 L908.50,404.47 L909.50,404.37 L910.50,404.26 L911.50,404.14 L912.50,404.02 L913.50,403.88 L914.50,403.73 L915.50,403.56 L916.50,403.38 L917.50,403.18 L918.50,402.97 L919.50,402.75 L920.50,402.53 L921.50,402.30 L922.50,402.08 L923.50,401.85 L924.50,401.64 L925.50,401.43 L926.50,401.24 L927.50,401.07 L928.50,400.91 L929.50,400.78 L930.50,400.67 L931.50,400.58 L933.30,400.40 L943.30,392.00 L946.00,384.20 L948.40,365.00 L952.00,340.00 L957.60,281.80 L965.10,256.00 L969.30,281.80 L972.60,340.00 L976.80,365.00 L979.60,390.50 L986.70,399.60 L990.00,400.60 L991.50,401.05 L992.50,401.24 L993.50,401.47 L994.50,401.73 L995.50,401.99 L996.50,402.24 L997.50,402.46 L998.50,402.64 L999.50,402.78 L1000.50,402.88 L1001.50,402.92 L1002.50,402.93 L1003.50,402.91 L1004.50,402.87 L1005.50,402.81 L1006.50,402.73 L1007.50,402.64 L1008.50,402.55 L1009.50,402.45 L1010.50,402.35 L1011.50,402.24 L1012.50,402.14 L1013.50,402.03 L1014.50,401.93 L1015.50,401.83 L1016.50,401.74 L1017.50,401.65 L1018.50,401.58 L1019.50,401.51 L1020.50,401.45 L1021.50,401.41 L1022.50,401.38 L1023.50,401.36 L1024.50,401.35 L1025.50,401.36 L1026.50,401.37 L1027.50,401.40 L1028.50,401.43 L1029.50,401.47 L1030.50,401.52 L1031.50,401.57 L1032.50,401.63 L1033.50,401.70 L1034.50,401.77 L1035.50,401.84 L1036.50,401.92 L1037.50,402.01 L1038.50,402.09 L1039.50,402.18 L1040.50,402.27 L1041.50,402.37 L1042.50,402.47 L1043.50,402.56 L1044.50,402.66 L1045.50,402.76 L1046.50,402.86 L1047.50,402.96 L1048.50,403.05 L1049.50,403.15 L1050.50,403.24 L1051.50,403.34 L1052.50,403.43 L1053.50,403.51 L1054.50,403.59 L1055.50,403.67 L1056.50,403.75 L1057.50,403.82 L1058.50,403.88 L1059.50,403.94 L1060.50,403.99 L1061.50,404.04 L1062.50,404.08 L1063.50,404.11 L1064.50,404.14 L1065.50,404.16 L1066.50,404.17 L1067.50,404.18 L1068.50,404.18 L1069.50,404.18 L1070.50,404.17 L1071.50,404.16 L1072.50,404.15 L1073.50,404.14 L1074.50,404.12 L1075.50,404.10 L1076.50,404.08 L1077.50,404.06 L1078.50,404.04 L1079.50,404.01 L1080.50,403.98 L1081.50,403.95 L1082.50,403.92 L1083.50,403.89 L1084.50,403.85 L1085.50,403.81 L1086.50,403.78 L1087.50,403.74 L1088.50,403.70 L1089.50,403.65 L1090.50,403.61 L1091.50,403.57 L1092.50,403.52 L1093.50,403.48 L1094.50,403.43 L1095.50,403.38 L1096.50,403.33 L1097.50,403.28 L1098.50,403.23 L1099.50,403.18 L1100.50,403.12 L1101.50,403.07 L1102.50,403.01 L1103.50,402.95 L1104.50,402.89 L1105.50,402.82 L1106.50,402.74 L1107.50,402.67 L1108.50,402.58 L1109.50,402.50 L1110.50,402.40 L1111.50,402.31 L1112.50,402.20 L1113.50,402.09 L1114.50,401.98 L1115.50,401.86 L1116.50,401.74 L1117.50,401.62 L1118.50,401.48 L1119.50,401.35 L1120.50,401.21 L1121.50,401.06 L1122.50,400.92 L1123.50,400.77 L1124.50,400.61 L1125.50,400.45 L1126.50,400.29 L1127.50,400.12 L1128.50,399.95 L1129.50,399.77 L1130.50,399.58 L1131.50,399.38 L1132.50,399.18 L1133.50,398.95 L1134.50,398.72 L1135.50,398.46 L1136.50,398.18 L1137.50,397.88 L1138.50,397.54 L1139.50,397.19 L1140.50,396.80 L1141.50,396.40 L1142.50,396.00 L1143.50,395.62 L1144.50,395.28 L1145.50,395.00 L1146.50,394.81 L1147.50,394.71 L1148.50,394.69 L1149.50,394.76 L1150.50,394.89 L1151.50,395.07 L1152.50,395.29 L1153.50,395.54 L1154.50,395.81 L1155.50,396.10 L1156.50,396.40 L1157.50,396.72 L1158.50,397.05 L1159.50,397.38 L1160.50,397.71 L1161.50,398.02 L1162.50,398.31 L1163.50,398.57 L1164.50,398.79 L1165.50,398.97 L1166.50,399.12 L1167.50,399.22 L1168.50,399.29 L1169.50,399.34 L1170.50,399.36 L1171.50,399.38 L1172.50,399.38 L1173.50,399.38 L1174.50,399.37 L1175.50,399.37 L1176.50,399.36 L1177.50,399.35 L1178.50,399.34 L1179.50,399.33 L1180.50,399.32 L1181.50,399.31 L1182.50,399.30 L1183.50,399.29 L1184.50,399.27 L1185.50,399.26 L1186.50,399.25 L1187.50,399.23 L1188.50,399.21 L1189.50,399.20 L1190.50,399.18 L1191.50,399.16 L1192.50,399.15 L1193.50,399.13 L1194.50,399.11 L1195.50,399.09 L1196.50,399.07 L1197.50,399.05 L1198.50,399.02 L1199.50,398.99 L1200.50,398.96 L1201.50,398.92 L1202.50,398.88 L1203.50,398.83 L1204.50,398.78 L1205.50,398.72 L1206.50,398.66 L1207.50,398.59 L1208.50,398.53 L1209.50,398.46 L1210.50,398.39 L1211.50,398.33 L1212.50,398.27 L1213.50,398.22 L1214.50,398.17 L1215.50,398.13 L1216.50,398.10 L1217.50,398.08 L1218.50,398.08 L1219.50,398.09 L1220.50,398.11 L1221.50,398.16 L1222.50,398.23 L1223.50,398.31 L1224.50,398.41 L1225.50,398.52 L1226.50,398.65 L1227.50,398.79 L1228.50,398.94 L1229.50,399.09 L1230.50,399.25 L1231.50,399.42 L1232.50,399.58 L1233.50,399.74 L1234.50,399.90 L1235.50,400.05 L1236.50,400.20 L1237.50,400.33 L1238.50,400.45 L1239.50,400.56 L1240.50,400.65 L1241.50,400.72 L1242.50,400.78 L1243.50,400.82 L1244.50,400.85 L1245.50,400.87 L1246.50,400.89 L1247.50,400.89 L1248.50,400.90 L1249.50,400.90 L1250.50,400.90 L1251.50,400.90 L1252.50,400.90 L1253.50,400.90 L1254.50,400.90 L1255.50,400.90 L1256.50,400.90 L1257.50,400.90 L1258.50,400.90 L1259.50,400.90 L1260.50,400.90 L1261.50,400.90 L1262.50,400.90 L1263.50,400.90 L1264.50,400.90 L1265.50,400.90 L1266.50,400.90 L1267.50,400.90 L1268.50,400.90 L1269.50,400.90 L1270.50,400.90 L1271.50,400.90 L1272.50,400.90 L1273.50,400.91 L1274.50,400.92 L1275.50,400.94 L1276.50,400.97 L1277.50,401.01 L1278.50,401.08 L1279.50,401.16 L1280.50,401.27 L1281.50,401.40 L1282.50,401.55 L1283.50,401.72 L1284.50,401.91 L1285.50,402.12 L1286.50,402.34 L1287.50,402.58 L1288.50,402.82 L1289.50,403.07 L1290.50,403.33 L1291.50,403.59 L1292.50,403.85 L1293.50,404.10 L1294.50,404.35 L1295.50,404.59 L1296.50,404.82 L1297.50,405.04 L1298.50,405.25 L1299.50,405.43 L1300.50,405.60 L1301.50,405.74 L1302.50,405.87 L1303.50,405.97 L1304.50,406.04 L1305.50,406.10 L1306.50,406.14 L1307.50,406.17 L1308.50,406.18 L1309.50,406.19 L1310.50,406.20 L1311.50,406.20 L1312.50,406.20 L1313.50,406.20 L1314.50,406.20 L1315.50,406.20 L1316.50,406.20 L1317.50,406.20 L1318.50,406.20 L1319.50,406.20 L1320.50,406.20 L1321.50,406.20 L1322.50,406.20 L1323.50,406.20 L1324.50,406.20 L1325.50,406.20 L1326.50,406.20 L1327.50,406.20 L1328.50,406.20 L1329.50,406.20 L1330.50,406.20 L1331.50,406.20 L1332.50,406.20 L1333.50,406.20 L1334.50,406.20 L1335.50,406.20 L1336.50,406.20 L1337.50,406.20 L1338.50,406.20 L1339.50,406.20 L1340.50,406.20 L1341.50,406.20 L1342.50,406.20 L1343.50,406.20 L1344.50,406.20 L1345.50,406.20 L1346.50,406.20 L1347.50,406.20 L1348.50,406.20 L1349.50,406.20 L1350.50,406.19 L1351.50,406.19 L1352.50,406.19 L1353.50,406.18 L1354.50,406.18 L1355.50,406.17 L1356.50,406.16 L1357.50,406.16 L1358.50,406.15 L1359.50,406.14 L1360.50,406.13 L1361.50,406.12 L1362.50,406.11 L1363.50,406.10 L1364.50,406.09 L1365.50,406.08 L1366.50,406.06 L1367.50,406.05 L1368.50,406.04 L1369.50,406.02 L1370.50,406.01 L1371.50,405.99 L1372.50,405.97 L1373.50,405.96 L1374.50,405.94 L1375.50,405.92 L1376.50,405.91 L1377.50,405.89 L1378.50,405.87 L1379.50,405.85 L1380.50,405.83 L1381.50,405.81 L1382.50,405.79 L1383.50,405.77 L1384.50,405.75 L1385.50,405.73 L1386.50,405.70 L1387.50,405.68 L1388.50,405.66 L1389.50,405.64 L1390.50,405.61 L1391.50,405.59 L1392.50,405.57 L1393.50,405.54 L1394.50,405.52 L1395.50,405.50 L1396.50,405.47 L1397.50,405.45 L1398.50,405.42 L1399.50,405.40 L1400.50,405.38 L1401.50,405.36 L1402.50,405.34 L1403.50,405.33 L1404.50,405.32" stroke="#ee4040" stroke-width="4.6"/>
<path d="M797.50,327.85 L798.50,327.89 L799.50,327.94 L800.50,328.01 L801.50,328.08 L802.50,328.16 L803.50,328.25 L804.50,328.33 L805.50,328.42 L806.50,328.49 L807.50,328.56 L808.50,328.61 L809.50,328.66 L810.50,328.69 L811.50,328.72 L812.50,328.73 L813.50,328.73 L814.50,328.72 L815.50,328.69 L816.50,328.64 L817.50,328.57 L818.50,328.50 L819.50,328.40 L820.50,328.30 L821.50,328.19 L822.50,328.07 L823.50,327.94 L824.50,327.82 L825.50,327.70 L826.50,327.58 L827.50,327.47 L828.50,327.37 L829.50,327.29 L830.50,327.22 L831.50,327.18 L832.50,327.16 L833.50,327.18 L834.50,327.23 L835.50,327.32 L836.50,327.44 L837.50,327.60 L838.50,327.78 L839.50,327.99 L840.50,328.21 L841.50,328.42 L842.50,328.64 L843.50,328.83 L844.50,329.00 L845.50,329.13 L846.50,329.23 L847.50,329.28 L848.50,329.30 L849.50,329.28 L850.50,329.23 L851.50,329.14 L852.50,329.04 L853.50,328.92 L854.50,328.78 L855.50,328.64 L856.50,328.50 L857.50,328.37 L858.50,328.25 L859.50,328.14 L860.50,328.05 L861.50,327.99 L862.50,327.95 L863.50,327.94 L864.50,327.95 L865.50,327.99 L866.50,328.06 L867.50,328.14 L868.50,328.23 L869.50,328.34 L870.50,328.45 L871.50,328.57 L872.50,328.68 L873.50,328.79 L874.50,328.88 L875.50,328.95 L876.50,329.01 L877.50,329.03 L878.50,329.02 L879.50,328.99 L880.50,328.91 L881.50,328.81 L882.50,328.68 L883.50,328.53 L884.50,328.37 L885.50,328.20 L886.50,328.04 L887.50,327.90 L888.50,327.79 L889.50,327.71 L890.50,327.68 L891.50,327.69 L892.50,327.76 L893.50,327.87 L894.50,328.02 L895.50,328.19 L896.50,328.38 L897.50,328.56 L898.50,328.72 L899.50,328.86 L900.50,328.96 L901.50,329.03 L902.50,329.07 L903.50,329.08 L904.50,329.06 L905.50,329.03 L906.50,328.98 L907.50,328.92 L908.50,328.85 L909.50,328.78 L910.50,328.69 L911.50,328.59 L912.50,328.49 L913.50,328.39 L914.50,328.27 L915.50,328.16 L916.50,328.03 L917.50,327.91 L918.50,327.78 L919.50,327.65 L920.50,327.51 L921.50,327.37 L922.50,327.23 L923.50,327.08 L924.50,326.92 L925.50,326.75 L926.50,326.57 L927.50,326.38 L928.50,326.18 L929.50,325.97 L930.50,325.77 L931.50,325.59 L932.50,325.42 L933.50,325.29 L934.70,325.00 L942.50,320.30 L949.20,295.20 L954.20,240.00 L960.90,140.00 L965.10,47.00 L969.30,140.00 L976.80,240.00 L981.80,295.20 L987.70,320.30 L993.70,325.30 L995.50,325.57 L996.50,325.69 L997.50,325.83 L998.50,325.98 L999.50,326.15 L1000.50,326.33 L1001.50,326.52 L1002.50,326.71 L1003.50,326.88 L1004.50,327.05 L1005.50,327.19 L1006.50,327.30 L1007.50,327.38 L1008.50,327.42 L1009.50,327.42 L1010.50,327.39 L1011.50,327.33 L1012.50,327.25 L1013.50,327.14 L1014.50,327.02 L1015.50,326.88 L1016.50,326.72 L1017.50,326.56 L1018.50,326.38 L1019.50,326.20 L1020.50,326.01 L1021.50,325.82 L1022.50,325.62 L1023.50,325.43 L1024.50,325.23 L1025.50,325.05 L1026.50,324.86 L1027.50,324.69 L1028.50,324.53 L1029.50,324.38 L1030.50,324.24 L1031.50,324.12 L1032.50,324.01 L1033.50,323.93 L1034.50,323.86 L1035.50,323.82 L1036.50,323.79 L1037.50,323.79 L1038.50,323.80 L1039.50,323.83 L1040.50,323.87 L1041.50,323.93 L1042.50,324.01 L1043.50,324.09 L1044.50,324.19 L1045.50,324.30 L1046.50,324.41 L1047.50,324.54 L1048.50,324.68 L1049.50,324.82 L1050.50,324.98 L1051.50,325.13 L1052.50,325.30 L1053.50,325.47 L1054.50,325.65 L1055.50,325.83 L1056.50,326.03 L1057.50,326.23 L1058.50,326.46 L1059.50,326.70 L1060.50,326.95 L1061.50,327.23 L1062.50,327.51 L1063.50,327.78 L1064.50,328.05 L1065.50,328.28 L1066.50,328.49 L1067.50,328.65 L1068.50,328.79 L1069.50,328.89 L1070.50,328.97 L1071.50,329.04 L1072.50,329.10 L1073.50,329.15 L1074.50,329.20 L1075.50,329.24 L1076.50,329.28 L1077.50,329.31 L1078.50,329.34 L1079.50,329.37 L1080.50,329.39 L1081.50,329.42 L1082.50,329.43 L1083.50,329.45 L1084.50,329.46 L1085.50,329.47 L1086.50,329.47 L1087.50,329.46 L1088.50,329.44 L1089.50,329.41 L1090.50,329.37 L1091.50,329.31 L1092.50,329.24 L1093.50,329.15 L1094.50,329.04 L1095.50,328.92 L1096.50,328.78 L1097.50,328.63 L1098.50,328.47 L1099.50,328.30 L1100.50,328.12 L1101.50,327.94 L1102.50,327.75 L1103.50,327.55 L1104.50,327.36 L1105.50,327.16 L1106.50,326.96 L1107.50,326.77 L1108.50,326.58 L1109.50,326.39 L1110.50,326.21 L1111.50,326.04 L1112.50,325.88 L1113.50,325.72 L1114.50,325.58 L1115.50,325.45 L1116.50,325.33 L1117.50,325.21 L1118.50,325.10 L1119.50,325.00 L1120.50,324.90 L1121.50,324.80 L1122.50,324.71 L1123.50,324.61 L1124.50,324.52 L1125.50,324.43 L1126.50,324.35 L1127.50,324.27 L1128.50,324.19 L1129.50,324.11 L1130.50,324.04 L1131.50,323.98 L1132.50,323.92 L1133.50,323.88 L1134.50,323.84 L1135.50,323.81 L1136.50,323.79 L1137.50,323.79 L1138.50,323.80 L1139.50,323.84 L1140.50,323.91 L1141.50,324.00 L1142.50,324.11 L1143.50,324.25 L1144.50,324.40 L1145.50,324.58 L1146.50,324.76 L1147.50,324.94 L1148.50,325.12 L1149.50,325.29 L1150.50,325.45 L1151.50,325.60 L1152.50,325.73 L1153.50,325.85 L1154.50,325.95 L1155.50,326.05 L1156.50,326.13 L1157.50,326.21 L1158.50,326.29 L1159.50,326.36 L1160.50,326.43 L1161.50,326.49 L1162.50,326.55 L1163.50,326.61 L1164.50,326.67 L1165.50,326.72 L1166.50,326.77 L1167.50,326.81 L1168.50,326.85 L1169.50,326.88 L1170.50,326.91 L1171.50,326.94 L1172.50,326.95 L1173.50,326.96 L1174.50,326.96 L1175.50,326.96 L1176.50,326.94 L1177.50,326.92 L1178.50,326.88 L1179.50,326.84 L1180.50,326.79 L1181.50,326.73 L1182.50,326.66 L1183.50,326.58 L1184.50,326.50 L1185.50,326.41 L1186.50,326.32 L1187.50,326.22 L1188.50,326.11 L1189.50,326.01 L1190.50,325.89 L1191.50,325.78 L1192.50,325.67 L1193.50,325.55 L1194.50,325.43 L1195.50,325.32 L1196.50,325.20 L1197.50,325.08 L1198.50,324.96 L1199.50,324.83 L1200.50,324.70 L1201.50,324.56 L1202.50,324.41 L1203.50,324.26 L1204.50,324.10 L1205.50,323.93 L1206.50,323.77 L1207.50,323.61 L1208.50,323.46 L1209.50,323.32 L1210.50,323.20 L1211.50,323.10 L1212.50,323.03 L1213.50,322.98 L1214.50,322.97 L1215.50,322.99 L1216.50,323.04 L1217.50,323.11 L1218.50,323.20 L1219.50,323.31 L1220.50,323.42 L1221.50,323.51 L1222.50,323.59 L1223.50,323.64 L1224.50,323.66 L1225.50,323.63 L1226.50,323.57 L1227.50,323.49 L1228.50,323.39 L1229.50,323.29 L1230.50,323.21 L1231.50,323.18 L1232.50,323.20 L1233.50,323.28 L1234.50,323.42 L1235.50,323.61 L1236.50,323.83 L1237.50,324.06 L1238.50,324.29 L1239.50,324.49 L1240.50,324.65 L1241.50,324.78 L1242.50,324.87 L1243.50,324.93 L1244.50,324.96 L1245.50,324.98 L1246.50,324.99 L1247.50,325.00 L1248.50,325.00 L1249.50,325.00 L1250.50,325.00 L1251.50,325.01 L1252.50,325.01 L1253.50,325.02 L1254.50,325.05 L1255.50,325.08 L1256.50,325.13 L1257.50,325.21 L1258.50,325.30 L1259.50,325.42 L1260.50,325.55 L1261.50,325.70 L1262.50,325.86 L1263.50,326.02 L1264.50,326.17 L1265.50,326.32 L1266.50,326.45 L1267.50,326.58 L1268.50,326.69 L1269.50,326.79 L1270.50,326.88 L1271.50,326.97 L1272.50,327.06 L1273.50,327.14 L1274.50,327.22 L1275.50,327.31 L1276.50,327.39 L1277.50,327.49 L1278.50,327.59 L1279.50,327.70 L1280.50,327.82 L1281.50,327.97 L1282.50,328.13 L1283.50,328.32 L1284.50,328.53 L1285.50,328.78 L1286.50,329.04 L1287.50,329.33 L1288.50,329.63 L1289.50,329.94 L1290.50,330.26 L1291.50,330.56 L1292.50,330.85 L1293.50,331.11 L1294.50,331.35 L1295.50,331.55 L1296.50,331.72 L1297.50,331.85 L1298.50,331.94 L1299.50,332.00 L1300.50,332.04 L1301.50,332.06 L1302.50,332.07 L1303.50,332.08 L1304.50,332.07 L1305.50,332.07 L1306.50,332.06 L1307.50,332.05 L1308.50,332.04 L1309.50,332.02 L1310.50,332.01 L1311.50,332.00 L1312.50,331.98 L1313.50,331.96 L1314.50,331.95 L1315.50,331.93 L1316.50,331.91 L1317.50,331.89 L1318.50,331.87 L1319.50,331.84 L1320.50,331.82 L1321.50,331.79 L1322.50,331.76 L1323.50,331.72 L1324.50,331.68 L1325.50,331.63 L1326.50,331.56 L1327.50,331.48 L1328.50,331.39 L1329.50,331.29 L1330.50,331.17 L1331.50,331.05 L1332.50,330.93 L1333.50,330.80 L1334.50,330.69 L1335.50,330.59 L1336.50,330.51 L1337.50,330.45 L1338.50,330.43 L1339.50,330.45 L1340.50,330.52 L1341.50,330.62 L1342.50,330.76 L1343.50,330.92 L1344.50,331.08 L1345.50,331.23 L1346.50,331.36 L1347.50,331.44 L1348.50,331.49 L1349.50,331.50 L1350.50,331.47 L1351.50,331.41 L1352.50,331.33 L1353.50,331.23 L1354.50,331.12 L1355.50,331.00 L1356.50,330.87 L1357.50,330.73 L1358.50,330.59 L1359.50,330.46 L1360.50,330.32 L1361.50,330.19 L1362.50,330.07 L1363.50,329.95 L1364.50,329.85 L1365.50,329.77 L1366.50,329.69 L1367.50,329.64 L1368.50,329.61 L1369.50,329.59 L1370.50,329.59 L1371.50,329.60 L1372.50,329.64 L1373.50,329.68 L1374.50,329.74 L1375.50,329.81 L1376.50,329.89 L1377.50,329.97 L1378.50,330.06 L1379.50,330.15 L1380.50,330.25 L1381.50,330.34 L1382.50,330.43 L1383.50,330.52 L1384.50,330.61 L1385.50,330.68 L1386.50,330.75 L1387.50,330.81 L1388.50,330.86 L1389.50,330.89 L1390.50,330.90 L1391.50,330.89 L1392.50,330.86 L1393.50,330.81 L1394.50,330.73 L1395.50,330.63 L1396.50,330.50 L1397.50,330.36 L1398.50,330.20 L1399.50,330.03 L1400.50,329.87 L1401.50,329.71 L1402.50,329.57 L1403.50,329.45 L1404.50,329.36" stroke="#1c70dc" stroke-width="4.6"/>
<path d="M797.50,256.58 L798.50,256.50 L799.50,256.41 L800.50,256.31 L801.50,256.22 L802.50,256.16 L803.50,256.15 L804.50,256.21 L805.50,256.34 L806.50,256.53 L807.50,256.77 L808.50,257.02 L809.50,257.26 L810.50,257.47 L811.50,257.61 L812.50,257.69 L813.50,257.70 L814.50,257.64 L815.50,257.53 L816.50,257.38 L817.50,257.19 L818.50,256.99 L819.50,256.79 L820.50,256.59 L821.50,256.40 L822.50,256.25 L823.50,256.14 L824.50,256.08 L825.50,256.08 L826.50,256.15 L827.50,256.28 L828.50,256.46 L829.50,256.68 L830.50,256.90 L831.50,257.12 L832.50,257.30 L833.50,257.44 L834.50,257.53 L835.50,257.56 L836.50,257.55 L837.50,257.51 L838.50,257.44 L839.50,257.36 L840.50,257.27 L841.50,257.17 L842.50,257.08 L843.50,257.00 L844.50,256.94 L845.50,256.89 L846.50,256.87 L847.50,256.88 L848.50,256.92 L849.50,256.99 L850.50,257.08 L851.50,257.20 L852.50,257.32 L853.50,257.44 L854.50,257.55 L855.50,257.64 L856.50,257.72 L857.50,257.78 L858.50,257.83 L859.50,257.86 L860.50,257.89 L861.50,257.91 L862.50,257.93 L863.50,257.95 L864.50,257.96 L865.50,257.97 L866.50,257.98 L867.50,258.00 L868.50,258.01 L869.50,258.02 L870.50,258.03 L871.50,258.04 L872.50,258.05 L873.50,258.06 L874.50,258.07 L875.50,258.08 L876.50,258.10 L877.50,258.11 L878.50,258.12 L879.50,258.14 L880.50,258.16 L881.50,258.17 L882.50,258.19 L883.50,258.21 L884.50,258.23 L885.50,258.25 L886.50,258.26 L887.50,258.28 L888.50,258.30 L889.50,258.31 L890.50,258.33 L891.50,258.34 L892.50,258.35 L893.50,258.36 L894.50,258.37 L895.50,258.38 L896.50,258.38 L897.50,258.38 L898.50,258.38 L899.50,258.37 L900.50,258.36 L901.50,258.34 L902.50,258.32 L903.50,258.29 L904.50,258.26 L905.50,258.22 L906.50,258.18 L907.50,258.14 L908.50,258.09 L909.50,258.04 L910.50,257.98 L911.50,257.92 L912.50,257.86 L913.50,257.80 L914.50,257.73 L915.50,257.66 L916.50,257.58 L917.50,257.50 L918.50,257.42 L919.50,257.32 L920.50,257.21 L921.50,257.09 L922.50,256.95 L923.50,256.80 L924.50,256.64 L925.50,256.48 L926.50,256.31 L927.50,256.15 L928.50,255.99 L929.50,255.85 L930.50,255.72 L931.50,255.61 L932.50,255.51 L933.50,255.44 L934.70,255.30 L943.20,246.80 L950.00,219.00 L957.00,140.00 L961.00,98.00 L965.10,60.00 L969.00,98.00 L972.10,140.00 L979.30,220.00 L984.30,240.00 L988.00,249.60 L996.50,256.70 L998.50,256.83 L999.50,256.87 L1000.50,256.89 L1001.50,256.89 L1002.50,256.88 L1003.50,256.85 L1004.50,256.80 L1005.50,256.74 L1006.50,256.67 L1007.50,256.59 L1008.50,256.51 L1009.50,256.41 L1010.50,256.31 L1011.50,256.21 L1012.50,256.10 L1013.50,255.99 L1014.50,255.88 L1015.50,255.77 L1016.50,255.65 L1017.50,255.55 L1018.50,255.44 L1019.50,255.34 L1020.50,255.24 L1021.50,255.15 L1022.50,255.06 L1023.50,254.99 L1024.50,254.92 L1025.50,254.87 L1026.50,254.83 L1027.50,254.80 L1028.50,254.78 L1029.50,254.78 L1030.50,254.80 L1031.50,254.84 L1032.50,254.90 L1033.50,254.97 L1034.50,255.06 L1035.50,255.17 L1036.50,255.29 L1037.50,255.42 L1038.50,255.57 L1039.50,255.72 L1040.50,255.88 L1041.50,256.04 L1042.50,256.20 L1043.50,256.37 L1044.50,256.53 L1045.50,256.69 L1046.50,256.84 L1047.50,256.98 L1048.50,257.12 L1049.50,257.24 L1050.50,257.35 L1051.50,257.46 L1052.50,257.55 L1053.50,257.64 L1054.50,257.72 L1055.50,257.79 L1056.50,257.86 L1057.50,257.93 L1058.50,257.99 L1059.50,258.06 L1060.50,258.12 L1061.50,258.18 L1062.50,258.24 L1063.50,258.30 L1064.50,258.35 L1065.50,258.41 L1066.50,258.46 L1067.50,258.50 L1068.50,258.55 L1069.50,258.59 L1070.50,258.63 L1071.50,258.66 L1072.50,258.69 L1073.50,258.72 L1074.50,258.74 L1075.50,258.75 L1076.50,258.76 L1077.50,258.77 L1078.50,258.77 L1079.50,258.76 L1080.50,258.74 L1081.50,258.71 L1082.50,258.68 L1083.50,258.64 L1084.50,258.59 L1085.50,258.53 L1086.50,258.47 L1087.50,258.40 L1088.50,258.32 L1089.50,258.24 L1090.50,258.16 L1091.50,258.07 L1092.50,257.98 L1093.50,257.89 L1094.50,257.79 L1095.50,257.69 L1096.50,257.60 L1097.50,257.50 L1098.50,257.41 L1099.50,257.31 L1100.50,257.22 L1101.50,257.12 L1102.50,257.03 L1103.50,256.93 L1104.50,256.83 L1105.50,256.73 L1106.50,256.63 L1107.50,256.52 L1108.50,256.40 L1109.50,256.28 L1110.50,256.16 L1111.50,256.04 L1112.50,255.91 L1113.50,255.79 L1114.50,255.66 L1115.50,255.53 L1116.50,255.41 L1117.50,255.29 L1118.50,255.17 L1119.50,255.05 L1120.50,254.94 L1121.50,254.84 L1122.50,254.74 L1123.50,254.65 L1124.50,254.56 L1125.50,254.49 L1126.50,254.42 L1127.50,254.37 L1128.50,254.32 L1129.50,254.29 L1130.50,254.27 L1131.50,254.27 L1132.50,254.28 L1133.50,254.31 L1134.50,254.35 L1135.50,254.40 L1136.50,254.47 L1137.50,254.55 L1138.50,254.64 L1139.50,254.73 L1140.50,254.83 L1141.50,254.94 L1142.50,255.05 L1143.50,255.16 L1144.50,255.27 L1145.50,255.37 L1146.50,255.46 L1147.50,255.55 L1148.50,255.63 L1149.50,255.70 L1150.50,255.75 L1151.50,255.79 L1152.50,255.81 L1153.50,255.82 L1154.50,255.82 L1155.50,255.80 L1156.50,255.76 L1157.50,255.72 L1158.50,255.67 L1159.50,255.61 L1160.50,255.55 L1161.50,255.49 L1162.50,255.44 L1163.50,255.40 L1164.50,255.37 L1165.50,255.36 L1166.50,255.39 L1167.50,255.46 L1168.50,255.57 L1169.50,255.72 L1170.50,255.92 L1171.50,256.14 L1172.50,256.37 L1173.50,256.59 L1174.50,256.78 L1175.50,256.95 L1176.50,257.07 L1177.50,257.15 L1178.50,257.19 L1179.50,257.21 L1180.50,257.21 L1181.50,257.19 L1182.50,257.16 L1183.50,257.13 L1184.50,257.09 L1185.50,257.05 L1186.50,257.00 L1187.50,256.95 L1188.50,256.90 L1189.50,256.84 L1190.50,256.79 L1191.50,256.73 L1192.50,256.67 L1193.50,256.61 L1194.50,256.54 L1195.50,256.48 L1196.50,256.42 L1197.50,256.35 L1198.50,256.28 L1199.50,256.21 L1200.50,256.14 L1201.50,256.06 L1202.50,255.97 L1203.50,255.88 L1204.50,255.78 L1205.50,255.69 L1206.50,255.59 L1207.50,255.49 L1208.50,255.40 L1209.50,255.32 L1210.50,255.24 L1211.50,255.18 L1212.50,255.12 L1213.50,255.08 L1214.50,255.05 L1215.50,255.03 L1216.50,255.02 L1217.50,255.01 L1218.50,255.00 L1219.50,255.00 L1220.50,255.00 L1221.50,255.00 L1222.50,255.00 L1223.50,255.00 L1224.50,255.00 L1225.50,255.00 L1226.50,255.00 L1227.50,255.00 L1228.50,255.00 L1229.50,255.01 L1230.50,255.02 L1231.50,255.03 L1232.50,255.05 L1233.50,255.08 L1234.50,255.12 L1235.50,255.17 L1236.50,255.24 L1237.50,255.32 L1238.50,255.41 L1239.50,255.52 L1240.50,255.63 L1241.50,255.75 L1242.50,255.88 L1243.50,256.01 L1244.50,256.14 L1245.50,256.28 L1246.50,256.43 L1247.50,256.58 L1248.50,256.74 L1249.50,256.90 L1250.50,257.07 L1251.50,257.24 L1252.50,257.40 L1253.50,257.57 L1254.50,257.73 L1255.50,257.87 L1256.50,258.01 L1257.50,258.14 L1258.50,258.26 L1259.50,258.38 L1260.50,258.49 L1261.50,258.59 L1262.50,258.69 L1263.50,258.78 L1264.50,258.88 L1265.50,258.97 L1266.50,259.05 L1267.50,259.14 L1268.50,259.22 L1269.50,259.30 L1270.50,259.38 L1271.50,259.46 L1272.50,259.54 L1273.50,259.62 L1274.50,259.69 L1275.50,259.77 L1276.50,259.85 L1277.50,259.93 L1278.50,260.00 L1279.50,260.08 L1280.50,260.15 L1281.50,260.23 L1282.50,260.30 L1283.50,260.38 L1284.50,260.45 L1285.50,260.52 L1286.50,260.60 L1287.50,260.68 L1288.50,260.77 L1289.50,260.87 L1290.50,260.99 L1291.50,261.12 L1292.50,261.27 L1293.50,261.44 L1294.50,261.62 L1295.50,261.81 L1296.50,262.00 L1297.50,262.18 L1298.50,262.35 L1299.50,262.50 L1300.50,262.63 L1301.50,262.75 L1302.50,262.85 L1303.50,262.94 L1304.50,263.02 L1305.50,263.10 L1306.50,263.17 L1307.50,263.23 L1308.50,263.29 L1309.50,263.34 L1310.50,263.39 L1311.50,263.43 L1312.50,263.47 L1313.50,263.50 L1314.50,263.53 L1315.50,263.55 L1316.50,263.56 L1317.50,263.56 L1318.50,263.55 L1319.50,263.54 L1320.50,263.51 L1321.50,263.48 L1322.50,263.44 L1323.50,263.39 L1324.50,263.33 L1325.50,263.27 L1326.50,263.20 L1327.50,263.12 L1328.50,263.04 L1329.50,262.96 L1330.50,262.87 L1331.50,262.79 L1332.50,262.70 L1333.50,262.62 L1334.50,262.53 L1335.50,262.45 L1336.50,262.37 L1337.50,262.29 L1338.50,262.21 L1339.50,262.14 L1340.50,262.07 L1341.50,262.00 L1342.50,261.93 L1343.50,261.86 L1344.50,261.79 L1345.50,261.72 L1346.50,261.65 L1347.50,261.58 L1348.50,261.52 L1349.50,261.46 L1350.50,261.41 L1351.50,261.36 L1352.50,261.32 L1353.50,261.29 L1354.50,261.28 L1355.50,261.28 L1356.50,261.29 L1357.50,261.32 L1358.50,261.36 L1359.50,261.43 L1360.50,261.50 L1361.50,261.59 L1362.50,261.69 L1363.50,261.79 L1364.50,261.89 L1365.50,261.99 L1366.50,262.08 L1367.50,262.16 L1368.50,262.23 L1369.50,262.28 L1370.50,262.33 L1371.50,262.35 L1372.50,262.37 L1373.50,262.38 L1374.50,262.39 L1375.50,262.39 L1376.50,262.39 L1377.50,262.39 L1378.50,262.39 L1379.50,262.38 L1380.50,262.38 L1381.50,262.37 L1382.50,262.36 L1383.50,262.35 L1384.50,262.34 L1385.50,262.33 L1386.50,262.31 L1387.50,262.30 L1388.50,262.28 L1389.50,262.26 L1390.50,262.24 L1391.50,262.21 L1392.50,262.18 L1393.50,262.15 L1394.50,262.12 L1395.50,262.08 L1396.50,262.05 L1397.50,262.00 L1398.50,261.96 L1399.50,261.92 L1400.50,261.87 L1401.50,261.83 L1402.50,261.80 L1403.50,261.77 L1404.50,261.74" stroke="#38aa69" stroke-width="4.6"/>
</g>
<rect x="799.5" y="19.4" width="603.9000000000001" height="486.0" fill="none" stroke="#000" stroke-width="2.6"/>
<path d="M1000.80,505.4 V495.9 M1202.10,505.4 V495.9 M900.15,505.4 V500.4 M1101.45,505.4 V500.4 M1302.75,505.4 V500.4" stroke="#000" stroke-width="2.6" fill="none"/>
<path d="M1042.8,47.4 H1110.1" stroke="#505050" stroke-width="5"/>
<path d="M1042.8,91.5 H1110.1" stroke="#ee4040" stroke-width="5"/>
<path d="M1042.8,135.6 H1110.1" stroke="#1c70dc" stroke-width="5"/>
<path d="M1042.8,179.7 H1110.1" stroke="#38aa69" stroke-width="5"/>
<text x="57.6" y="477.26" font-family='"Liberation Serif", serif' font-size="31.2" text-anchor="end">0</text>
<text x="57.6" y="396.18" font-family='"Liberation Serif", serif' font-size="31.2" text-anchor="end">1</text>
<text x="57.6" y="315.09" font-family='"Liberation Serif", serif' font-size="31.2" text-anchor="end">2</text>
<text x="57.6" y="234.01" font-family='"Liberation Serif", serif' font-size="31.2" text-anchor="end">3</text>
<text x="57.6" y="152.93" font-family='"Liberation Serif", serif' font-size="31.2" text-anchor="end">4</text>
<text x="57.6" y="71.84" font-family='"Liberation Serif", serif' font-size="31.2" text-anchor="end">5</text>
<text x="-2.6" y="25.3" font-family='"Liberation Sans", sans-serif' font-size="35" fill="#000" text-anchor="start" xml:space="preserve">(a)</text>
<text x="716.5" y="31" font-family='"Liberation Sans", sans-serif' font-size="35" fill="#000" text-anchor="start" xml:space="preserve">(b)</text>
<text x="153.7" y="541.5" font-family='"Liberation Serif", serif' font-size="30.5" fill="#000" text-anchor="middle" textLength="45" lengthAdjust="spacingAndGlyphs" xml:space="preserve">750</text>
<text x="326.3" y="541.5" font-family='"Liberation Serif", serif' font-size="30.5" fill="#000" text-anchor="middle" textLength="45" lengthAdjust="spacingAndGlyphs" xml:space="preserve">800</text>
<text x="498.9" y="541.5" font-family='"Liberation Serif", serif' font-size="30.5" fill="#000" text-anchor="middle" textLength="45" lengthAdjust="spacingAndGlyphs" xml:space="preserve">850</text>
<text x="671.3" y="541.5" font-family='"Liberation Serif", serif' font-size="30.5" fill="#000" text-anchor="middle" textLength="45" lengthAdjust="spacingAndGlyphs" xml:space="preserve">900</text>
<text x="799.5" y="539.3" font-family='"Liberation Serif", serif' font-size="30.5" fill="#000" text-anchor="middle" textLength="45" lengthAdjust="spacingAndGlyphs" xml:space="preserve">200</text>
<text x="1000.8" y="539.3" font-family='"Liberation Serif", serif' font-size="30.5" fill="#000" text-anchor="middle" textLength="45" lengthAdjust="spacingAndGlyphs" xml:space="preserve">250</text>
<text x="1202.1" y="539.3" font-family='"Liberation Serif", serif' font-size="30.5" fill="#000" text-anchor="middle" textLength="45" lengthAdjust="spacingAndGlyphs" xml:space="preserve">300</text>
<text x="1403.4" y="539.3" font-family='"Liberation Serif", serif' font-size="30.5" fill="#000" text-anchor="middle" textLength="45" lengthAdjust="spacingAndGlyphs" xml:space="preserve">350</text>
<text x="369.5" y="590.9" font-family='"Liberation Serif", serif' font-size="30.5" fill="#000" text-anchor="middle" textLength="208" lengthAdjust="spacingAndGlyphs" xml:space="preserve">Wavelength (nm)</text>
<text transform="translate(29.2,264.8) rotate(-90)" font-family='"Liberation Serif", serif' font-size="30.5" fill="#000" text-anchor="middle" textLength="285" lengthAdjust="spacingAndGlyphs" xml:space="preserve">PL Intensity (a.u.) (10<tspan font-size="20" dx="0" dy="-12.5">4</tspan><tspan font-size="30.5" dx="0" dy="12.5">)</tspan></text>
<text transform="translate(775.6,251.4) rotate(-90)" font-family='"Liberation Serif", serif' font-size="30.5" fill="#000" text-anchor="middle" textLength="209" lengthAdjust="spacingAndGlyphs" xml:space="preserve">Relative Intensity</text>
<text x="1101" y="591.6" font-family='"Liberation Serif", serif' font-size="30.5" fill="#000" text-anchor="middle" textLength="230" lengthAdjust="spacingAndGlyphs" xml:space="preserve">Raman Shift (cm<tspan font-size="19" dx="0" dy="-12">-1</tspan><tspan font-size="30.5" dx="0" dy="12">)</tspan></text>
<text x="254" y="75.4" font-family='"Liberation Serif", serif' font-size="30.5" fill="#000" text-anchor="start" textLength="90" lengthAdjust="spacingAndGlyphs" xml:space="preserve">789 nm</text>
<text x="246.6" y="356" font-family='"Liberation Serif", serif' font-size="30.5" fill="#ff0000" text-anchor="start" textLength="90" lengthAdjust="spacingAndGlyphs" xml:space="preserve">790 nm</text>
<text x="399" y="374.7" font-family='"Liberation Serif", serif' font-size="30.5" fill="#ff0000" text-anchor="start" textLength="89.5" lengthAdjust="spacingAndGlyphs" xml:space="preserve">826 nm</text>
<text x="448" y="72.1" font-family='"Liberation Serif", serif' font-size="30" fill="#000" text-anchor="start" textLength="199" lengthAdjust="spacingAndGlyphs" xml:space="preserve">Undoped MoSe<tspan font-size="19.5" dx="0" dy="7">2</tspan></text>
<text x="448.5" y="115.8" font-family='"Liberation Serif", serif' font-size="30" fill="#000" text-anchor="start" textLength="207.5" lengthAdjust="spacingAndGlyphs" xml:space="preserve">Nb-doped MoSe<tspan font-size="19.5" dx="0" dy="7">2</tspan></text>
<text x="1124.8" y="57.4" font-family='"Liberation Serif", serif' font-size="28.5" fill="#000" text-anchor="start" textLength="244.5" lengthAdjust="spacingAndGlyphs" xml:space="preserve">ML undoped MoSe<tspan font-size="18.5" dx="0" dy="6.5">2</tspan></text>
<text x="1124.8" y="101.5" font-family='"Liberation Serif", serif' font-size="28.5" fill="#000" text-anchor="start" textLength="260.7" lengthAdjust="spacingAndGlyphs" xml:space="preserve">ML Nb-doped MoSe<tspan font-size="18.5" dx="0" dy="6.5">2</tspan></text>
<text x="1124.8" y="145.6" font-family='"Liberation Serif", serif' font-size="28.5" fill="#000" text-anchor="start" textLength="257.8" lengthAdjust="spacingAndGlyphs" xml:space="preserve">Bulk undoped MoSe<tspan font-size="18.5" dx="0" dy="6.5">2</tspan></text>
<text x="1124.8" y="189.70000000000002" font-family='"Liberation Serif", serif' font-size="28.5" fill="#000" text-anchor="start" textLength="273.5" lengthAdjust="spacingAndGlyphs" xml:space="preserve">Bulk Nb-doped MoSe<tspan font-size="18.5" dx="0" dy="6.5">2</tspan></text>
<text x="977.2" y="58.1" font-family='"Liberation Serif", serif' font-size="37" fill="#000" text-anchor="start" textLength="25.6" lengthAdjust="spacingAndGlyphs" xml:space="preserve">A</text>
<text x="1004.8" y="67.8" font-family='"Liberation Serif", serif' font-size="24.5" fill="#000" text-anchor="start" textLength="23.4" lengthAdjust="spacingAndGlyphs" xml:space="preserve">1g</text>
</svg></body></html>
